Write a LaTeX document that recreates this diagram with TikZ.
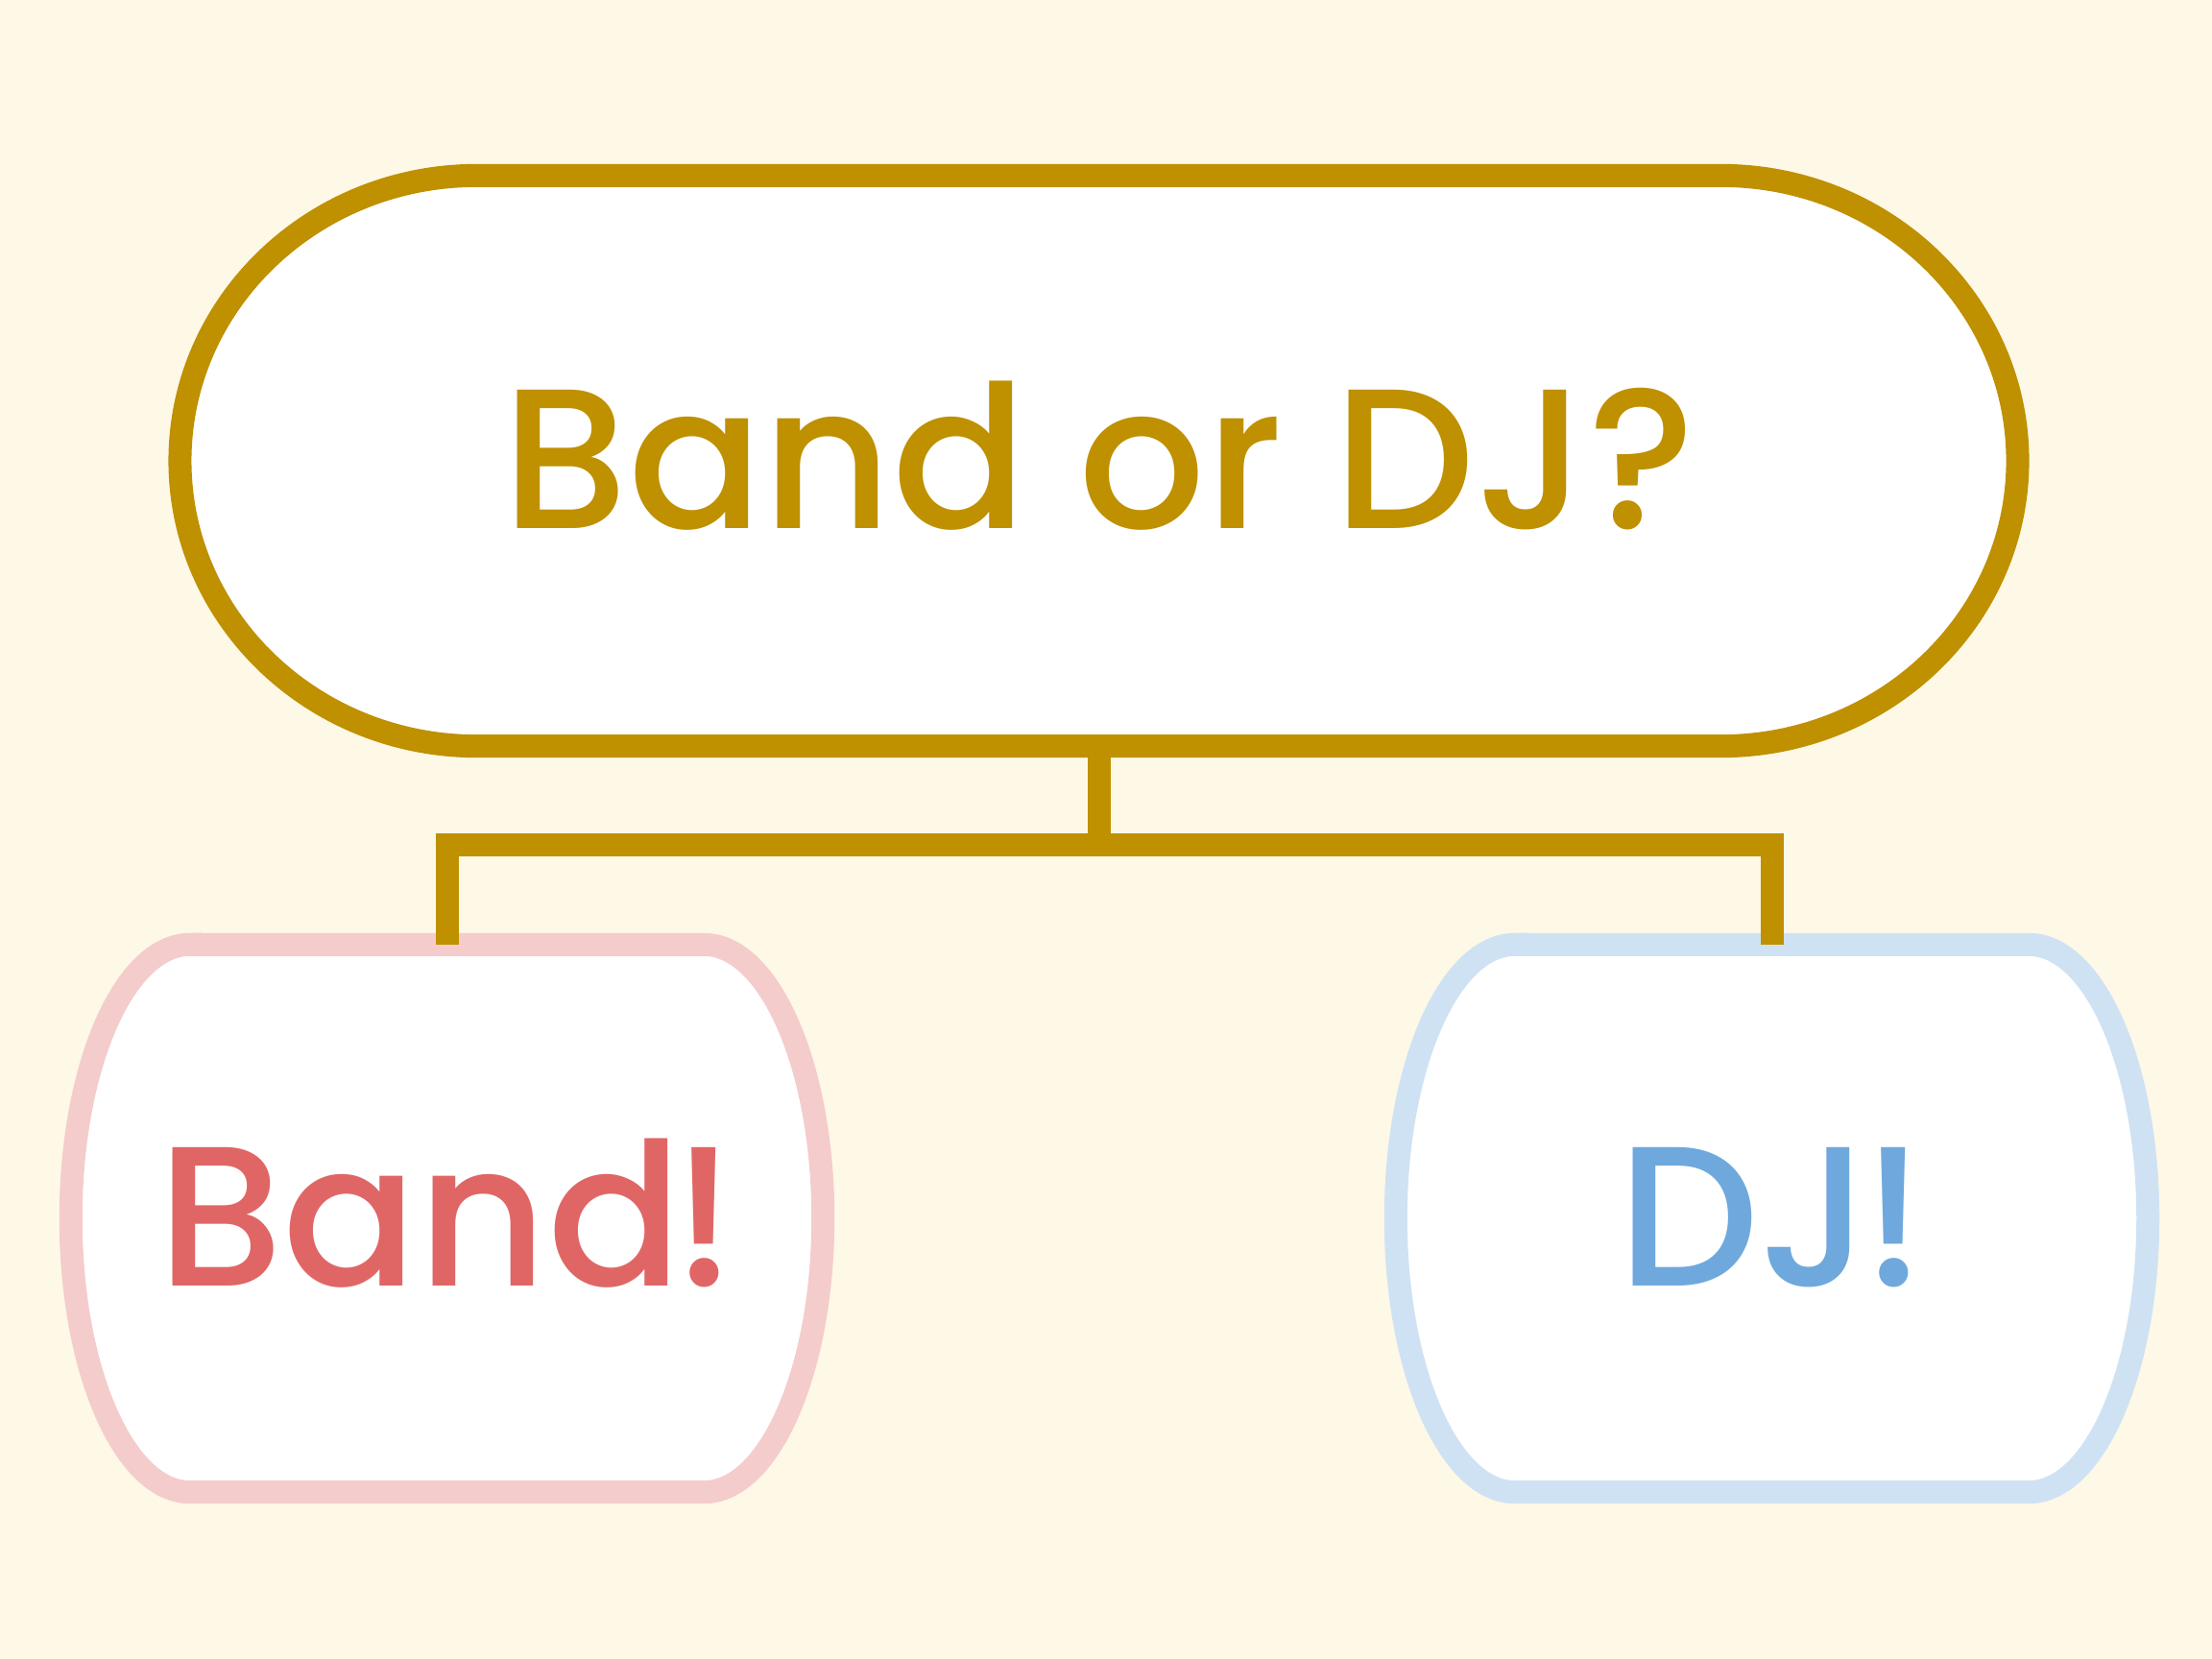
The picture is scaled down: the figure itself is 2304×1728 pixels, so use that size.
\documentclass[tikz,border=0pt]{standalone}
\usepackage{fontspec}
\setmainfont{Poppins}[UprightFont={* Medium}]
\definecolor{bgc}{HTML}{FEF8E6}
\definecolor{gold}{HTML}{BF9000}
\definecolor{pinkline}{HTML}{F4CCCC}
\definecolor{pinktext}{HTML}{E06666}
\definecolor{blueline}{HTML}{CFE2F3}
\definecolor{bluetext}{HTML}{6FA8DC}
\tikzset{
  boxnode/.style={inner sep=0pt, outer sep=0pt, font=\fontsize{59}{70}\selectfont},
  outline/.style={line width=0.24cm, fill=white},
  conn/.style={line width=0.24cm, draw=gold, line cap=butt, line join=miter}
}
\begin{document}
\begin{tikzpicture}[x=0.01cm,y=0.01cm]
\fill[bgc] (0,0) rectangle (2304,-1728);
\useasboundingbox (0,0) rectangle (2304,-1728);

% question node
\node[boxnode, minimum width=19.13cm, minimum height=5.94cm, text=gold] (q) at (1144.5,-480) {};
\draw[outline, draw=gold] ([xshift=3.09cm]q.north west) -- ([xshift=-3.09cm]q.north east)
  arc[start angle=90, end angle=-90, x radius=3.09cm, y radius=2.97cm]
  -- ([xshift=3.09cm]q.south west)
  arc[start angle=270, end angle=90, x radius=3.09cm, y radius=2.97cm] -- cycle;
\node[boxnode, text=gold, anchor=base] (qt) at ([yshift=-0.7cm]q.center) {Band or DJ?};

% answer nodes
\node[boxnode, minimum width=7.83cm, minimum height=5.70cm] (band) at (465.5,-1269) {};
\draw[outline, draw=pinkline] ([xshift=1.24cm]band.north west) -- ([xshift=-1.24cm]band.north east)
  arc[start angle=90, end angle=-90, x radius=1.24cm, y radius=2.85cm]
  -- ([xshift=1.24cm]band.south west)
  arc[start angle=270, end angle=90, x radius=1.24cm, y radius=2.85cm] -- cycle;
\node[boxnode, text=pinktext, anchor=base] (bandt) at ([yshift=-0.7cm]band.center) {Band\kern-0.05em!};

\node[boxnode, minimum width=7.83cm, minimum height=5.70cm] (dj) at (1845.5,-1269) {};
\draw[outline, draw=blueline] ([xshift=1.24cm]dj.north west) -- ([xshift=-1.24cm]dj.north east)
  arc[start angle=90, end angle=-90, x radius=1.24cm, y radius=2.85cm]
  -- ([xshift=1.24cm]dj.south west)
  arc[start angle=270, end angle=90, x radius=1.24cm, y radius=2.85cm] -- cycle;
\node[boxnode, text=bluetext, anchor=base] (djt) at ([yshift=-0.7cm]dj.center) {DJ\kern-0.05em!};

% connectors
\coordinate (fork) at (q.south |- 0,-880);
\draw[conn] (q.south) -- (fork);
\draw[conn] (band.north) |- (fork) -| (dj.north);
\end{tikzpicture}
\end{document}
